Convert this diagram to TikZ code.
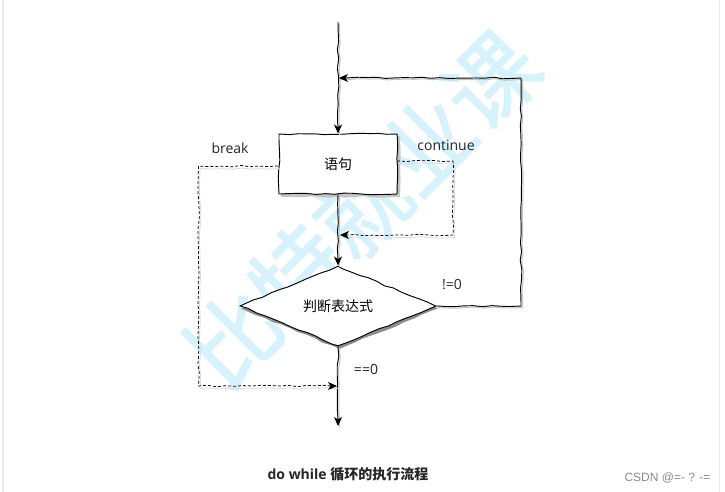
\documentclass[tikz,border=0pt]{standalone}
\usepackage{fontspec}
\setmainfont{Open Sans}
\newfontfamily\cjk{Noto Sans CJK SC}
\newfontfamily\markfont[FakeBold=1.3]{Noto Sans CJK SC}
\newfontfamily\csdnfont{Liberation Sans}
\usepackage{tikz}
\usetikzlibrary{shapes.geometric}
\usetikzlibrary{arrows.meta,arrows}
\usetikzlibrary{positioning}
\usetikzlibrary{decorations.pathmorphing,backgrounds}
\definecolor{markblue}{HTML}{D6F3FD}
\definecolor{sketchgray}{HTML}{C4C4C4}
\definecolor{jumpgray}{HTML}{D8D8D8}
\definecolor{edgegray}{HTML}{E9E9E9}
\definecolor{csdngray}{HTML}{8C8C8C}
\tikzset{
	wobble/.style={decorate,decoration={random steps,segment length=9pt,amplitude=.8pt,post length=7pt,pre length=1pt}},
	flow line/.style={wobble,line width=.95pt,preaction={draw=sketchgray,line width=1pt,transform canvas={shift={(1.5pt,-1.5pt)}},-}},
	jump line/.style={wobble,line width=.75pt,dash pattern=on 3pt off 2pt,preaction={draw=jumpgray,line width=.75pt,transform canvas={shift={(1.5pt,-2.5pt)}},-}},
	flow label/.style={font=\fontsize{14}{16}\selectfont,text=black!85,inner sep=0},
	stmt node/.style={rectangle,draw,fill=white,line width=.95pt,wobble,minimum width=118pt,minimum height=60pt},
	cond node/.style={diamond,draw,fill=white,line width=.95pt,wobble,minimum width=196pt,minimum height=80pt,aspect=2.45,inner sep=0},
	box shadow/.style={wobble,fill=sketchgray,transform canvas={shift={(2.5pt,-2.5pt)}}},
	cond shadow/.style={wobble,fill=black!45,transform canvas={shift={(1.5pt,-2.5pt)}}}
}
\begin{document}
\begin{tikzpicture}[x=1pt,y=-1pt,>={Stealth[length=9pt,width=8pt,inset=2.5pt]},node distance=142pt]
 \useasboundingbox (0,0) rectangle (725,492);

 \node[stmt node] (stmt) at (338,164) {\fontsize{14}{16}\selectfont\cjk 语句};
 \node[cond node] (cond) [below of=stmt] {\fontsize{14}{16}\selectfont\cjk 判断表达式};

 \begin{scope}[on background layer]
 \fill[white] (0,0) rectangle (725,492);
 \draw[edgegray,line width=1.2pt] (3,0) -- (3,492);
 \draw[edgegray,line width=1.2pt] (719.5,0) -- (719.5,492);
 % watermark
 \node[rotate=45,text=markblue,font=\markfont\fontsize{91}{100}\selectfont,inner sep=0] (mark) at (362,209) {比特就业课};
 \fill[box shadow] (stmt.north west) -- (stmt.north east) -- (stmt.south east) -- (stmt.south west) -- cycle;
 \fill[cond shadow] (cond.north) -- (cond.east) -- (cond.south) -- (cond.west) -- cycle;
 \end{scope}

 \coordinate (start) at (338,22);
 \coordinate (stop) at (338,426);
 \coordinate (merge) at (339,78);
 \coordinate (loopb) at (521,306);
 \coordinate (loopt) at (521,78);
 \coordinate (contout) at (397,161);
 \coordinate (contr) at (453,161);
 \coordinate (contb) at (453,235);
 \coordinate (contin) at (340,235);
 \coordinate (brkout) at (278,166);
 \coordinate (brkl) at (198.5,166);
 \coordinate (brkb) at (198.5,386);
 \coordinate (brkin) at (337,386);

 \node[flow label] (brk) at (230,148) {break};
 \node[flow label] (cont) at (446,145) {continue};
 \node[flow label] (ne) at (452,285) {!=0};
 \node[flow label] (eq) at (366,369) {==0};
 \node[font=\bfseries\fontsize{14}{16}\selectfont,text=black!85,inner sep=0] (title) at (348,474) {do while {\cjk 循环的执行流程}};
 \node[font=\csdnfont\fontsize{12}{14}\selectfont,text=csdngray,inner sep=0] (csdn) at (667.5,478) {CSDN @=- ? -=};

 \draw[flow line,->] (start) -- (stmt.north);
 \draw[flow line,->] (stmt.south) -- (cond.north);
 \draw[flow line,->] (cond.south) -- (stop);
 \draw[flow line,->] (cond.east) -- (loopb) -- (loopt) -- (merge);
 \draw[jump line,->] (contout) -- (contr) -- (contb) -- (contin);
 \draw[jump line,->] (brkout) -- (brkl) -- (brkb) -- (brkin);
\end{tikzpicture}
\end{document}
